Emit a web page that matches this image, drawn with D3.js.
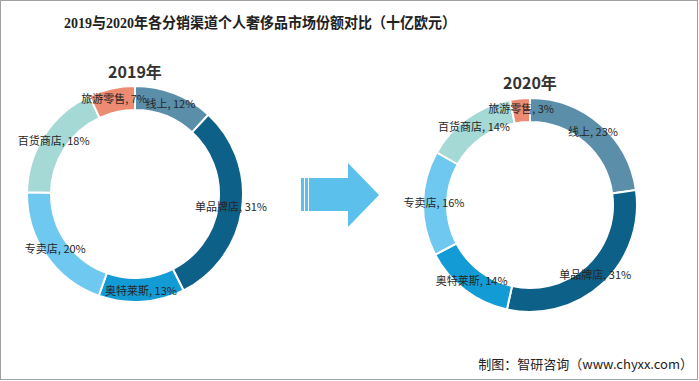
<!DOCTYPE html>
<html>
<head>
<meta charset="utf-8">
<script src="https://cdn.jsdelivr.net/npm/d3@7"></script>
<style>
  body { margin: 0; background: #fff; }
  svg { display: block; }
</style>
</head>
<body>
<div id="chart"></div>
<script>
// données
const canaux = ["线上", "单品牌店", "奥特莱斯", "专卖店", "百货商店", "旅游零售"];
const parts2019 = [12, 31, 13, 20, 18, 7];
const parts2020 = [23, 31, 14, 16, 14, 3];
const annees = ["2019年", "2020年"];
const couleurs = ["#5b8fa9", "#0d6087", "#139bd6", "#6ec8f0", "#a5d9d5", "#ec8a72"];

const width = 699, height = 381;

const svg = d3.select("#chart").append("svg")
    .attr("width", width)
    .attr("height", height);

// cadre gris
svg.append("rect")
    .attr("x", 0.5).attr("y", 0.5)
    .attr("width", width - 2).attr("height", height - 2)
    .attr("fill", "#fff")
    .attr("stroke", "#a0a0a0");

svg.append("text")
    .attr("x", 64).attr("y", 28)
    .attr("textLength", 392)
    .attr("lengthAdjust", "spacingAndGlyphs")
    .style("font-family", "'Liberation Serif', 'Noto Sans CJK SC'")
    .style("font-size", "15px")
    .style("font-weight", "bold")
    .attr("fill", "#222")
    .text("2019与2020年各分销渠道个人奢侈品市场份额对比（十亿欧元）");

const couleur = d3.scaleOrdinal().domain(canaux).range(couleurs);
const pie = d3.pie().sort(null).value(d => d.v);

function donut(valeurs, annee, cx, cy, rOut, rIn, yAnnee) {
    const data = canaux.map((c, i) => ({ nom: c, v: valeurs[i] }));
    const arcs = pie(data);
    const arc = d3.arc().innerRadius(rIn).outerRadius(rOut);
    const arcLabel = d3.arc().innerRadius(rIn + 1).outerRadius(rOut + 1);

    const g = svg.append("g").attr("transform", `translate(${cx},${cy})`);

    g.selectAll("path")
        .data(arcs)
        .enter().append("path")
        .attr("d", arc)
        .attr("fill", d => couleur(d.data.nom))
        .attr("stroke", "#fff")
        .attr("stroke-width", 2);

    g.selectAll("text.label")
        .data(arcs)
        .enter().append("text")
        .attr("class", "label")
        .attr("transform", d => `translate(${arcLabel.centroid(d)})`)
        .attr("text-anchor", "middle")
        .attr("dy", "0.35em")
        .style("font-family", "'Noto Sans CJK SC', sans-serif")
        .style("font-size", "11px")
        .attr("fill", "#262626")
        .text(d => `${d.data.nom}, ${d.data.v}%`);

    svg.append("text")
        .attr("x", cx).attr("y", yAnnee)
        .attr("text-anchor", "middle")
        .style("font-family", "'Noto Sans CJK SC', sans-serif")
        .style("font-size", "16px")
        .style("font-weight", "bold")
        .attr("fill", "#333")
        .text(annee);
}

donut(parts2019, annees[0], 135, 194, 108, 84, 78);
donut(parts2020, annees[1], 530, 205, 107, 83, 89);

// flèche
const bleuFleche = "#5bc1ec";
svg.append("rect").attr("x", 301).attr("y", 178).attr("width", 3).attr("height", 33).attr("fill", bleuFleche);
svg.append("rect").attr("x", 305).attr("y", 178).attr("width", 3).attr("height", 33).attr("fill", bleuFleche);
svg.append("path")
    .attr("d", d3.line()([[309, 178], [348, 178], [348, 163], [379, 195], [348, 227], [348, 211], [309, 211]]) + "Z")
    .attr("fill", bleuFleche);

svg.append("text")
    .attr("x", 693).attr("y", 369)
    .attr("text-anchor", "end")
    .style("font-family", "'Noto Sans CJK SC', sans-serif")
    .style("font-size", "13px")
    .attr("fill", "#222")
    .text("制图：智研咨询（www.chyxx.com）");
</script>
</body>
</html>
